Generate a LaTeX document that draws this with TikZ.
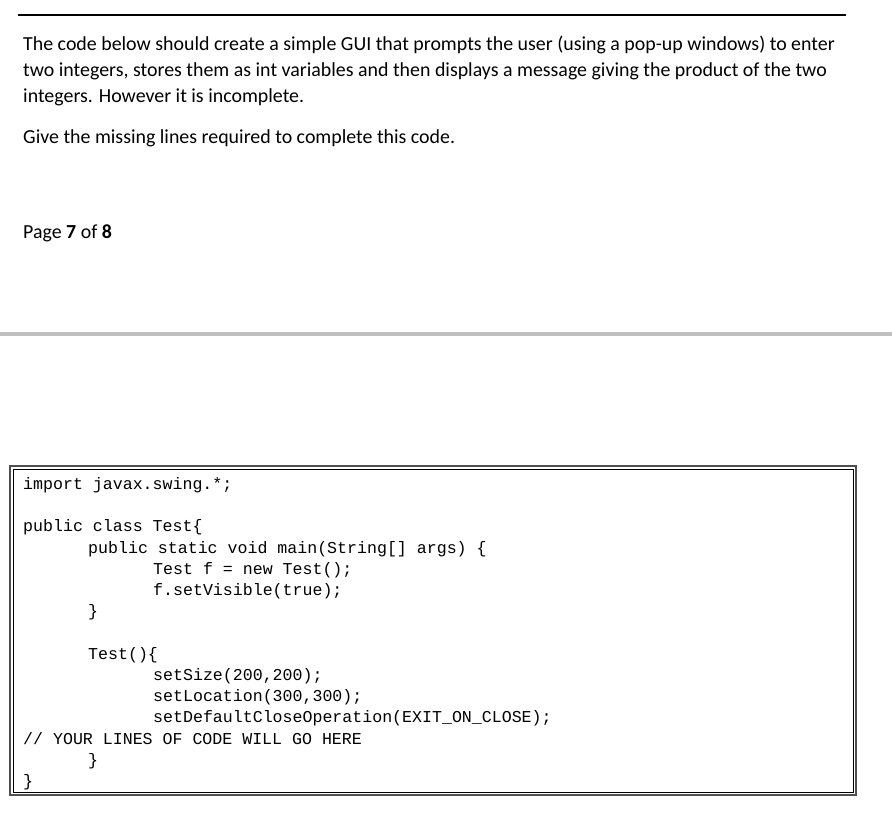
\documentclass[tikz,border=0pt]{standalone}
\usepackage{fontspec}
\setmainfont{Carlito}
\newfontfamily\codefont{Liberation Mono}
\begin{document}
\begin{tikzpicture}[x=1pt,y=-1pt,
  txt/.style={anchor=base west,inner sep=0pt,font=\fontsize{19.9}{22}\selectfont},
  code/.style={anchor=base west,inner sep=0pt,font=\codefont\fontsize{16.6}{20}\selectfont}]
\useasboundingbox (0,0) rectangle (892,818);
\draw[line width=1.2pt] (18,15) coordinate (t1) -- (846,15) coordinate (t2);
\node[txt] (p1) at (23,51) {The code below should create a simple GUI that prompts the user (using a pop-up windows) to enter};
\node[txt] (p2) at (23,77) {two integers, stores them as int variables and then displays a message giving the product of the two};
\node[txt] (p3) at (23,103) {integers. However it is incomplete.};
\node[txt] (p4) at (23,144) {Give the missing lines required to complete this code.};
\node[txt] (pg) at (23,239) {Page \textbf{7} of \textbf{8}};
\draw[line width=4pt,color={rgb,255:red,192;green,192;blue,192}] (0,334) coordinate (g1) -- (892,334) coordinate (g2);
\draw[line width=1.5pt,color={rgb,255:red,80;green,80;blue,80}] (10,466) rectangle (856,795);
\draw[line width=0.8pt] (13,469) rectangle (853,792);
\node[code] at (23,489) {import javax.swing.*;};
\node[code] at (23,531) {public class Test\{};
\node[code] at (88,553) {public static void main(String[] args) \{};
\node[code] at (153,574) {Test f = new Test();};
\node[code] at (153,595) {f.setVisible(true);};
\node[code] at (88,616) {\}};
\node[code] at (88,659) {Test()\{};
\node[code] at (153,680) {setSize(200,200);};
\node[code] at (153,701) {setLocation(300,300);};
\node[code] at (153,722) {setDefaultCloseOperation(EXIT\_ON\_CLOSE);};
\node[code] at (23,744) {// YOUR LINES OF CODE WILL GO HERE};
\node[code] at (88,765) {\}};
\node[code] at (23,786) {\}};
\end{tikzpicture}
\end{document}
